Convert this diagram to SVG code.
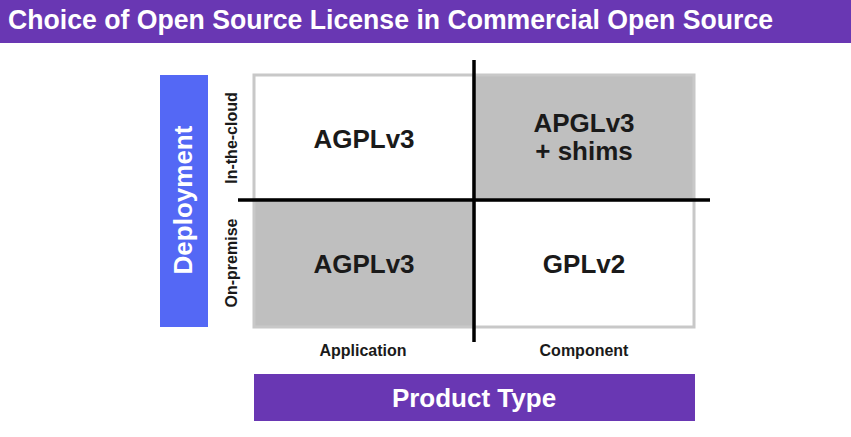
<svg xmlns="http://www.w3.org/2000/svg" width="851" height="437" viewBox="0 0 851 437">
<style>
.bar{fill:#6937b3}
.cellw{fill:#ffffff;stroke:#c8c8c8;stroke-width:3}
.cellg{fill:#bfbfbf;stroke:#c8c8c8;stroke-width:3}
.big{font-family:"Liberation Sans",Arial,sans-serif;font-weight:bold;font-size:26px;fill:#1a1a1a;text-anchor:middle}
.sm{font-family:"Liberation Sans",Arial,sans-serif;font-weight:bold;font-size:16px;fill:#1a1a1a;text-anchor:middle}
.wt{font-family:"Liberation Sans",Arial,sans-serif;font-weight:bold;font-size:26px;fill:#ffffff;text-anchor:middle}
.axis{stroke:#000000;stroke-width:3.5;fill:none}
</style>
<rect width="851" height="437" fill="#ffffff"/>
<g id="title">
<rect class="bar" x="0" y="0" width="851" height="43"/>
<text x="8" y="29" font-family="'Liberation Sans',Arial,sans-serif" font-weight="bold" font-size="27" fill="#ffffff" textLength="765" lengthAdjust="spacingAndGlyphs">Choice of Open Source License in Commercial Open Source</text>
</g>
<g id="deployment">
<rect x="160" y="75" width="48" height="252" fill="#5468f5"/>
<text class="wt" transform="translate(192,200) rotate(-90)" x="0" y="0">Deployment</text>
</g>
<g id="cell-cloud-app">
<rect class="cellw" x="254" y="75" width="220" height="125"/>
<text class="big" x="364" y="148">AGPLv3</text>
</g>
<g id="cell-cloud-comp">
<rect class="cellg" x="474" y="75" width="220" height="125"/>
<text class="big" x="584" y="132">APGLv3</text>
<text class="big" x="584" y="160">+ shims</text>
</g>
<g id="cell-prem-app">
<rect class="cellg" x="254" y="200" width="220" height="127"/>
<text class="big" x="364" y="273">AGPLv3</text>
</g>
<g id="cell-prem-comp">
<rect class="cellw" x="474" y="200" width="220" height="127"/>
<text class="big" x="584" y="273">GPLv2</text>
</g>
<g id="connectors">
<line class="axis" x1="474" y1="60" x2="474" y2="342"/>
<line class="axis" x1="238" y1="200" x2="710" y2="200"/>
</g>
<g id="labels">
<text class="sm" transform="translate(237,138) rotate(-90)">In-the-cloud</text>
<text class="sm" transform="translate(237,263) rotate(-90)">On-premise</text>
<text class="sm" x="363" y="356">Application</text>
<text class="sm" x="584" y="356">Component</text>
</g>
<g id="product-type">
<rect class="bar" x="254" y="374" width="441" height="47"/>
<text class="wt" x="474" y="407">Product Type</text>
</g>
</svg>
